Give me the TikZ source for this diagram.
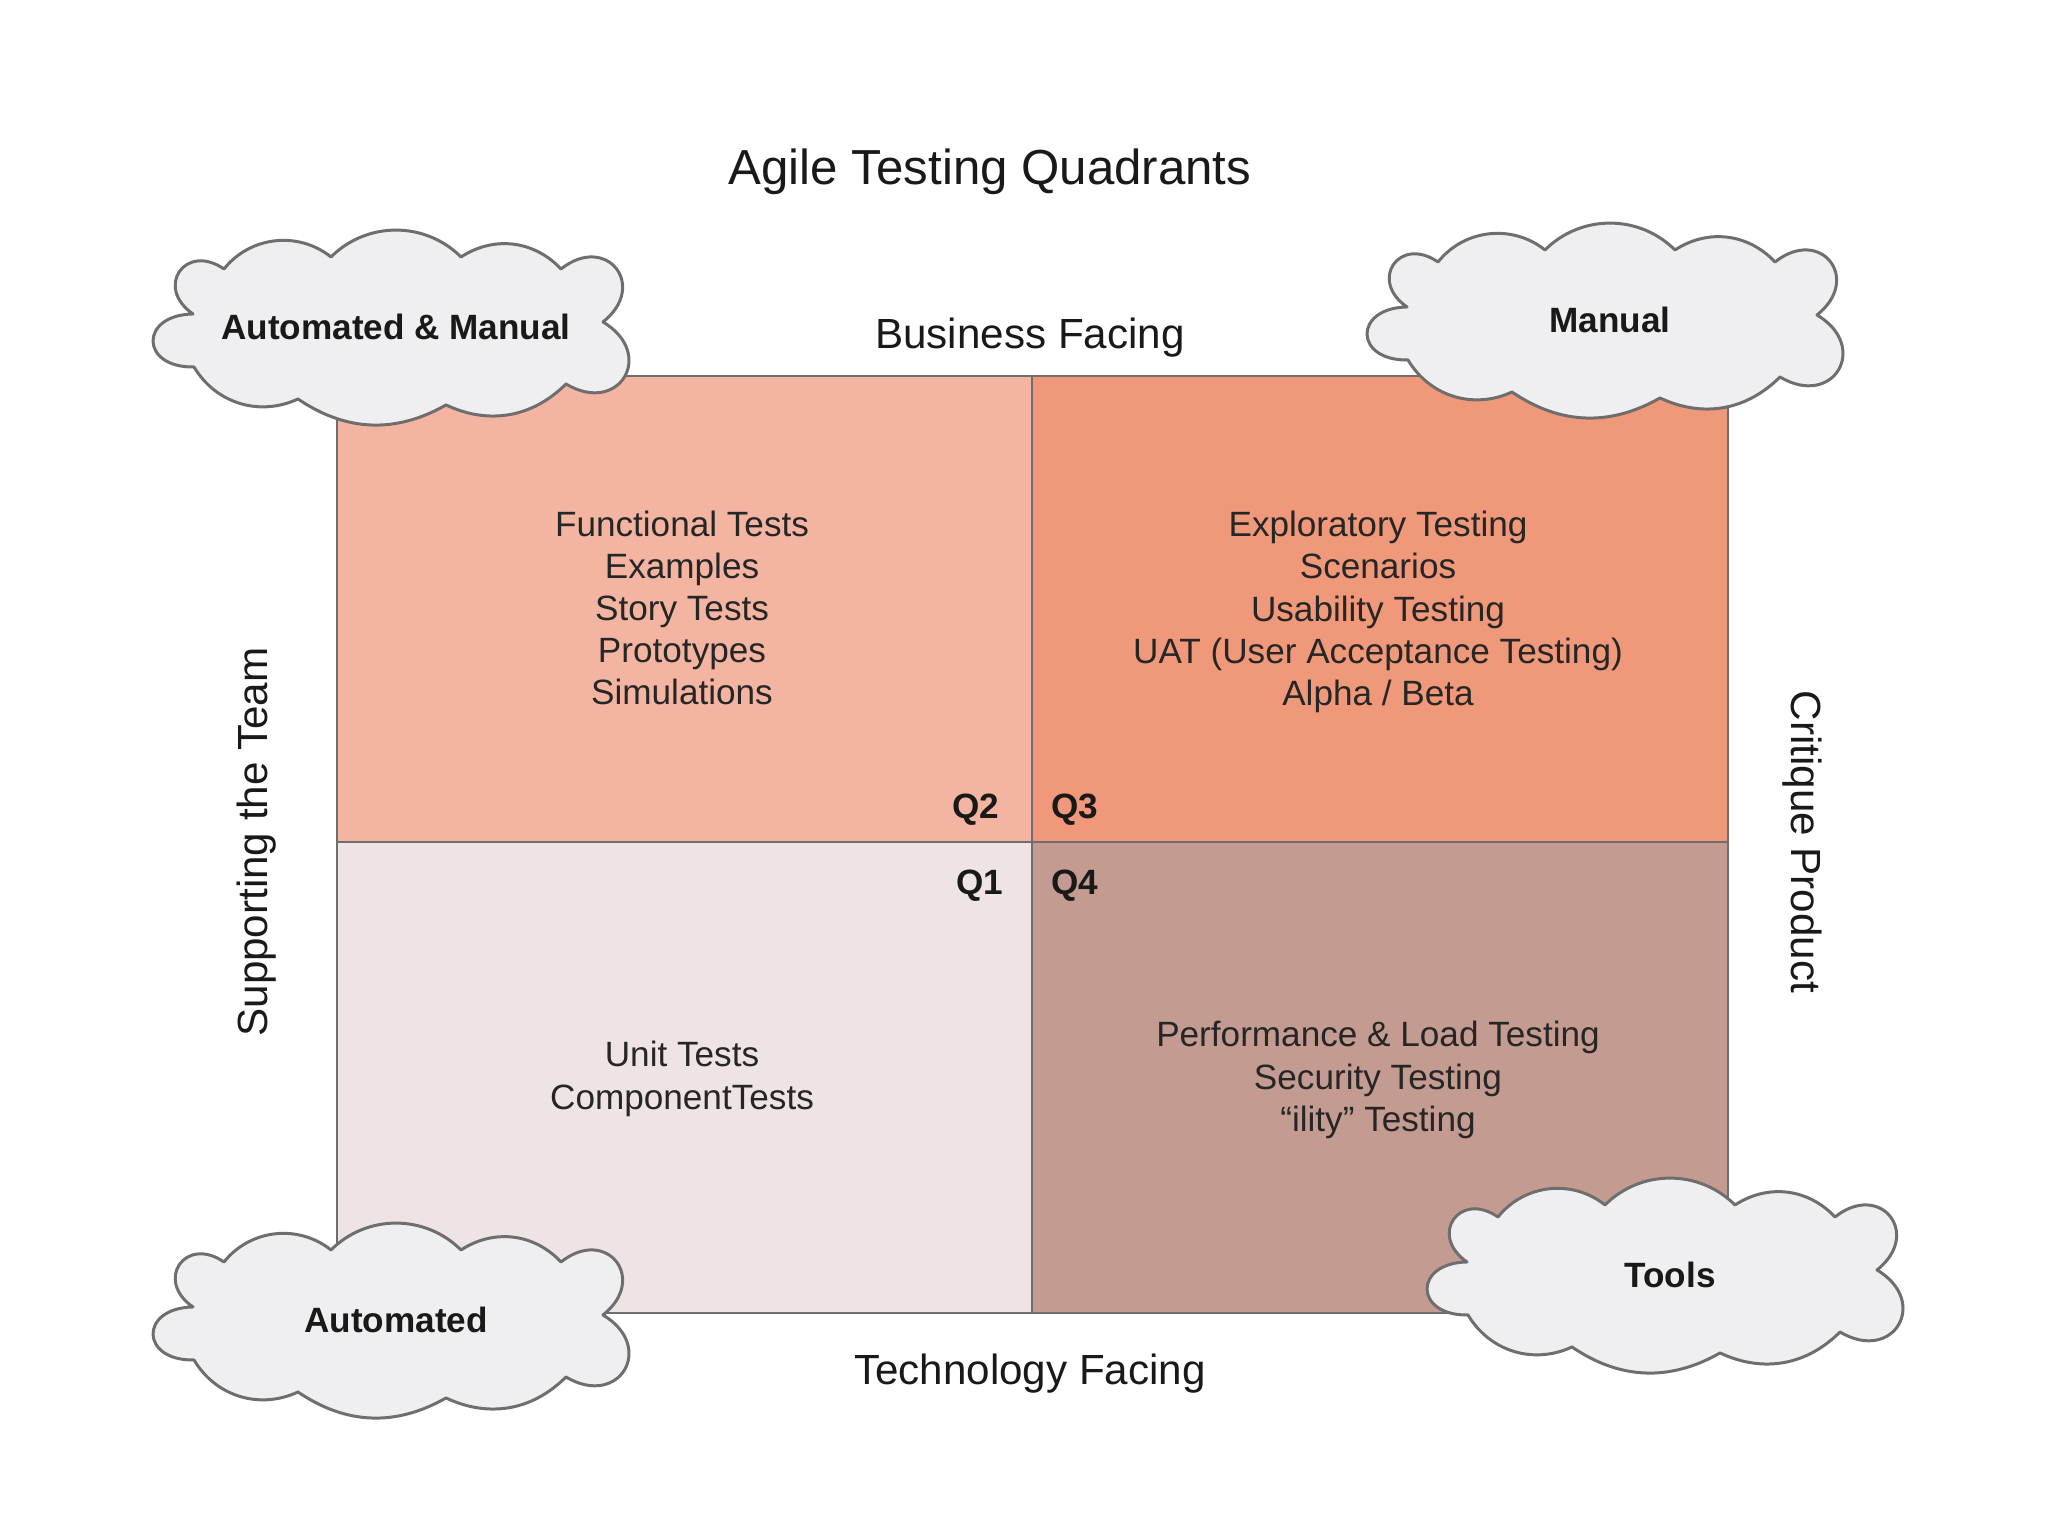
\documentclass[tikz,border=0pt]{standalone}
\usepackage{fontspec}
\setmainfont{Liberation Sans}
\definecolor{qone}{HTML}{EEE4E3}
\definecolor{qtwo}{HTML}{F3B5A1}
\definecolor{qthree}{HTML}{F0987A}
\definecolor{qfour}{HTML}{C49B91}
\definecolor{puff}{HTML}{EFEEF0}
\definecolor{rim}{HTML}{6E6E6E}
\tikzset{quadtext/.style={align=center, text=black!85, font=\fontsize{10}{12}\selectfont},
 qlabel/.style={text=black!90, font=\bfseries\fontsize{10}{12}\selectfont},
 facing/.style={text=black!90, font=\fontsize{12}{14}\selectfont},
 bubble/.style={draw=rim, line width=0.85pt, fill=puff, line join=round},
 bubbletext/.style={text=black!90, font=\bfseries\fontsize{10}{12}\selectfont},
 }

\begin{document}
\begin{tikzpicture}
        \useasboundingbox (0,0) rectangle (20.48,15.36);
        \fill[white] (0,0) rectangle (20.48,15.36);
        \fill[qtwo] (3.37,6.94) rectangle (10.32,11.60);
        \fill[qthree] (10.32,6.94) rectangle (17.28,11.60);
        \fill[qone] (3.37,2.23) rectangle (10.32,6.94);
        \fill[qfour] (10.32,2.23) rectangle (17.28,6.94);
        \draw[rim, line width=0.6pt] (3.37,2.23) rectangle (17.28,11.60);
        \draw[rim, line width=0.6pt] (10.32,2.23) -- (10.32,11.60);
        \draw[rim, line width=0.6pt] (3.37,6.94) -- (17.28,6.94);

        \node[font=\fontsize{14}{16}\selectfont, text=black!90] (title) at (9.90,13.64) {Agile Testing Quadrants};
        \node[facing] (business) at (10.30,11.98) {Business Facing};
        \node[facing] (technology) at (10.30,1.62) {Technology Facing};
        \node[facing, rotate=90] (support) at (2.57,6.94) {Supporting the Team};
        \node[facing, rotate=-90] (critique) at (18.02,6.94) {Critique Product};

        \node[quadtext] (q2text) at (6.82,9.28) {Functional Tests\\Examples\\Story Tests\\Prototypes\\Simulations};
        \node[quadtext] (q3text) at (13.78,9.24) {Exploratory Testing\\Scenarios\\Usability Testing\\UAT (User Acceptance Testing)\\Alpha / Beta};
        \node[quadtext] (q1text) at (6.82,4.57) {Unit Tests\\ComponentTests};
        \node[quadtext] (q4text) at (13.78,4.56) {Performance \& Load Testing\\Security Testing\\“ility” Testing};

        \foreach \name/\x/\y in {Q2/9.76/7.26, Q3/10.75/7.26, Q1/9.80/6.50, Q4/10.75/6.50} {
            \node[qlabel] (\name) at (\x,\y) {\name};
        }

        \foreach \name/\cx/\cy/\txt in {automanual/3.96/12.09/Automated \& Manual, manual/16.10/12.16/Manual,
                                         automated/3.96/2.16/Automated, tools/16.70/2.61/Tools} {
            \begin{scope}[shift={(\cx,\cy)}]
                \draw[bubble] (-2.03,0.13)
                    \foreach \px/\py/\b/\l in {-1.72/0.58/90/2.2, -0.65/0.70/45/1, 0.65/0.70/45/1, 1.65/0.58/40/1,
                                               2.07/0.05/90/2.2, 1.70/-0.57/90/2.2, 0.50/-0.78/35/1, -0.98/-0.72/32/1,
                                               -2.02/-0.40/42/1, -2.03/0.13/90/2.6} {
                        to[bend left=\b, looseness=\l] (\px,\py)
                    } -- cycle;
                \node[bubbletext] (\name) at (0,0) {\txt};
            \end{scope}
        }
    \end{tikzpicture}
\end{document}
